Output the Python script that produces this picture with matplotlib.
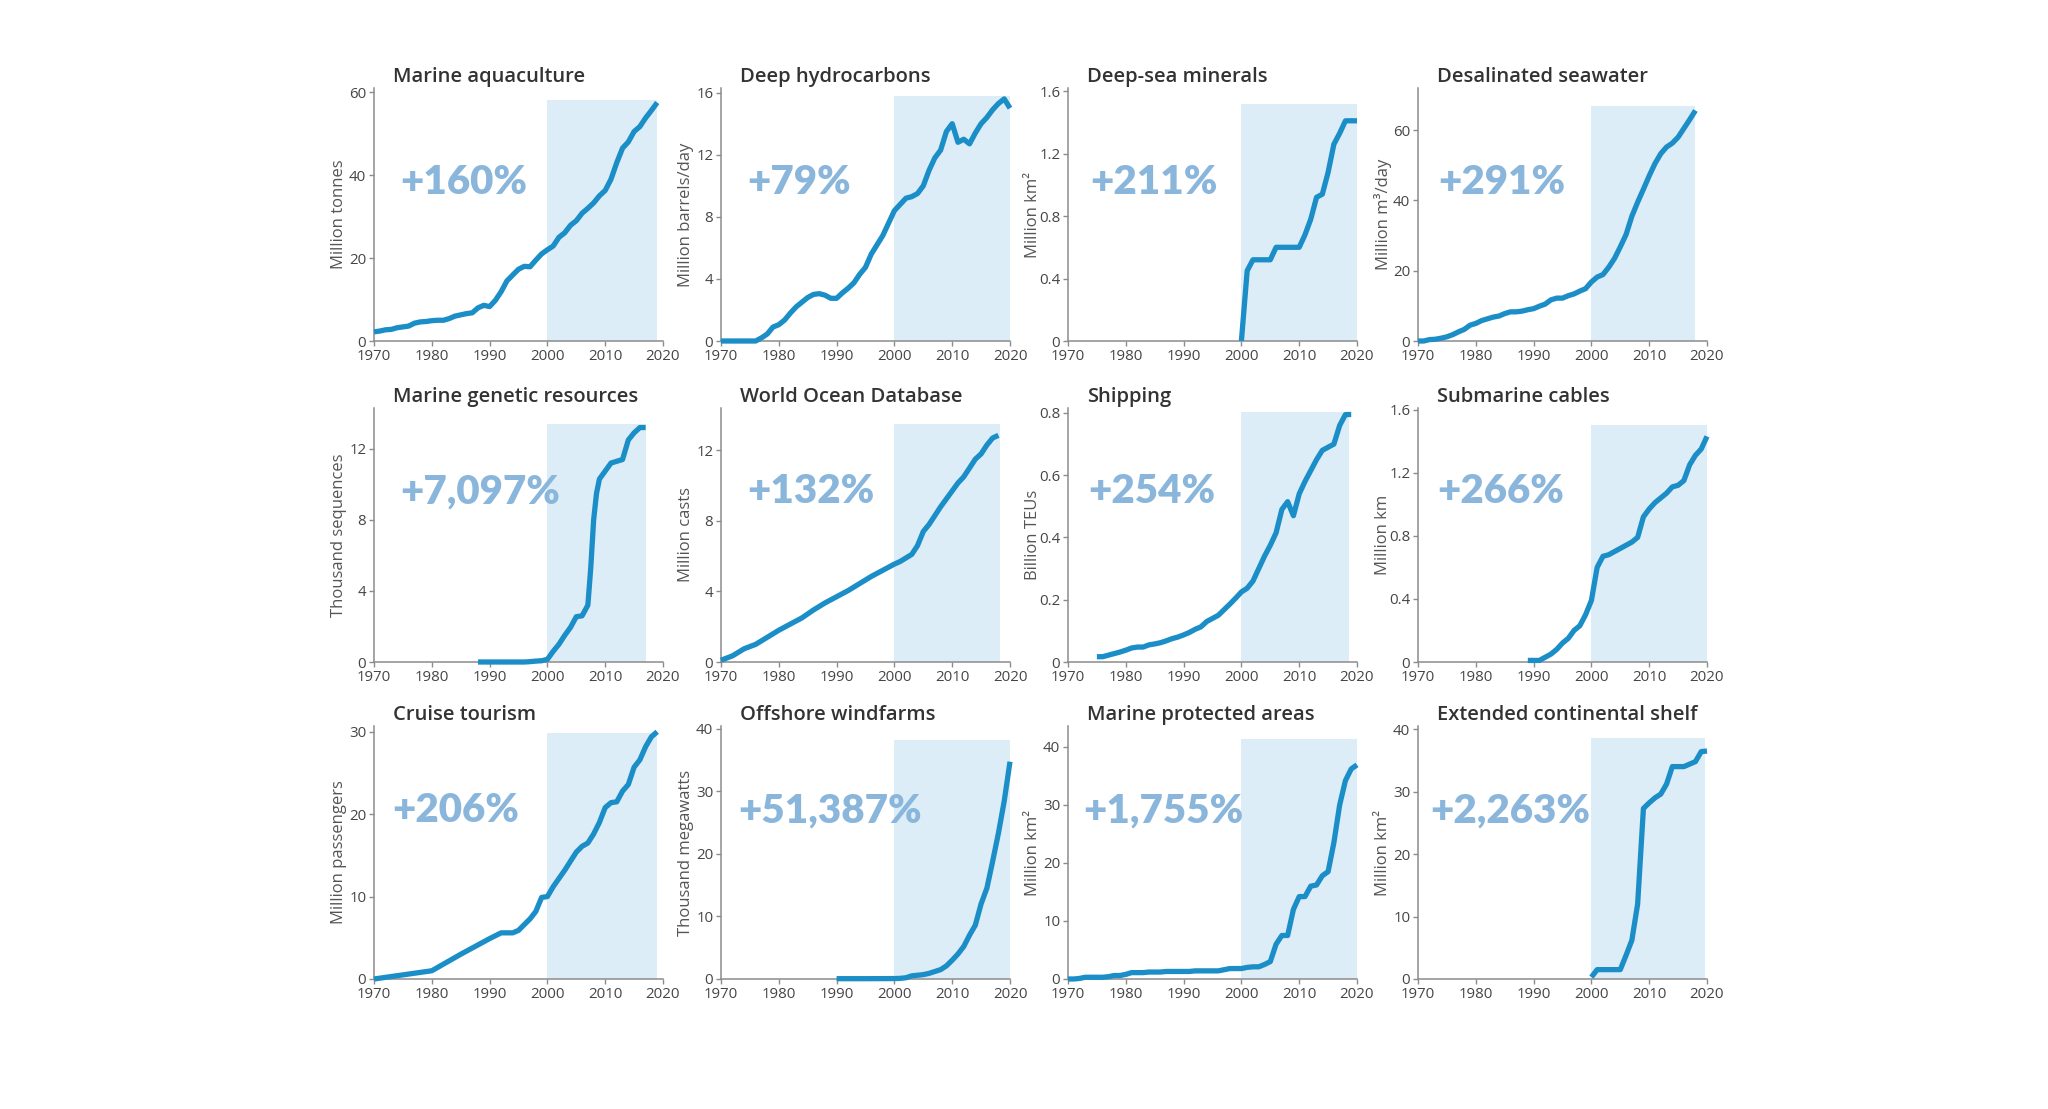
import matplotlib.pyplot as plt

# --- data --------------------------------------------------------------
titles = ["Marine aquaculture", "Deep hydrocarbons", "Deep-sea minerals", "Desalinated seawater",
          "Marine genetic resources", "World Ocean Database", "Shipping", "Submarine cables",
          "Cruise tourism", "Offshore windfarms", "Marine protected areas", "Extended continental shelf"]
ylabels = ["Million tonnes", "Million barrels/day", "Million km²", "Million m³/day",
           "Thousand sequences", "Million casts", "Billion TEUs", "Million km",
           "Million passengers", "Thousand megawatts", "Million km²", "Million km²"]
changes = ["+160%", "+79%", "+211%", "+291%", "+7,097%", "+132%", "+254%", "+266%",
           "+206%", "+51,387%", "+1,755%", "+2,263%"]

aqua_x = list(range(1970, 2020))
aqua_y = [2.2, 2.4, 2.7, 2.8, 3.2, 3.4, 3.6, 4.3, 4.6, 4.7, 4.9, 5.0, 5.0, 5.4, 6.0, 6.3, 6.6, 6.8,
          8.0, 8.6, 8.3, 9.8, 11.9, 14.5, 15.9, 17.3, 18.0, 17.9, 19.5, 21.0, 22.0, 22.9, 25.0,
          26.1, 27.9, 29.0, 30.8, 32.0, 33.3, 35.0, 36.3, 39.0, 43.0, 46.5, 48.0, 50.5, 51.7,
          53.8, 55.6, 57.5]

hydro_x = list(range(1970, 2021))
hydro_y = [0, 0, 0, 0, 0, 0, 0, 0.2, 0.45, 0.9, 1.05, 1.35, 1.8, 2.2, 2.5, 2.8, 3.0, 3.05, 2.95,
           2.75, 2.75, 3.1, 3.4, 3.75, 4.3, 4.75, 5.6, 6.2, 6.8, 7.6, 8.4, 8.8, 9.2, 9.3, 9.5,
           10.0, 11.0, 11.8, 12.3, 13.5, 14.0, 12.8, 13.0, 12.7, 13.4, 14.0, 14.4, 14.9, 15.3,
           15.6, 15.0]

mineral_x = list(range(2000, 2021))
mineral_y = [0, 0.45, 0.52, 0.52, 0.52, 0.52, 0.60, 0.60, 0.60, 0.60, 0.60, 0.68, 0.78, 0.92,
             0.94, 1.08, 1.26, 1.33, 1.41, 1.41, 1.41]

desal_x = list(range(1970, 2019))
desal_y = [0, 0, 0.4, 0.5, 0.8, 1.2, 1.8, 2.6, 3.3, 4.5, 5.0, 5.8, 6.3, 6.8, 7.1, 7.8, 8.3, 8.3,
           8.5, 8.9, 9.2, 9.9, 10.5, 11.7, 12.2, 12.2, 12.9, 13.4, 14.2, 14.9, 16.8, 18.2, 18.9,
           21.0, 23.5, 26.8, 30.3, 35.5, 39.5, 43.2, 47.0, 50.5, 53.3, 55.2, 56.3, 58.0, 60.5,
           63.0, 65.6]

genetic_x = [1988, 1990, 1992, 1994, 1996, 1997, 1998, 1999, 2000, 2001, 2002, 2003, 2004, 2005,
             2006, 2007, 2007.5, 2008, 2008.5, 2009, 2010, 2011, 2012, 2013, 2014, 2015, 2016, 2017]
genetic_y = [0, 0, 0, 0, 0, 0.02, 0.05, 0.07, 0.15, 0.6, 1.0, 1.5, 1.95, 2.55, 2.6, 3.2, 5.3,
             8.0, 9.5, 10.3, 10.75, 11.2, 11.3, 11.4, 12.5, 12.9, 13.2, 13.2]

wod_x = [1970, 1972, 1974, 1976, 1978, 1980, 1982, 1984, 1986, 1988, 1990, 1992, 1994, 1996,
         1998, 2000, 2001, 2002, 2003, 2004, 2005, 2006, 2007, 2008, 2009, 2010, 2011, 2012,
         2013, 2014, 2015, 2016, 2017, 2018]
wod_y = [0.1, 0.35, 0.75, 1.0, 1.4, 1.8, 2.15, 2.5, 2.95, 3.35, 3.7, 4.05, 4.45, 4.85, 5.2, 5.55,
         5.7, 5.9, 6.1, 6.6, 7.4, 7.8, 8.3, 8.8, 9.25, 9.7, 10.15, 10.5, 11.0, 11.5, 11.8, 12.3,
         12.7, 12.85]

ship_x = list(range(1975, 2020))
ship_y = [0.017, 0.017, 0.022, 0.027, 0.032, 0.038, 0.045, 0.048, 0.048, 0.055, 0.058, 0.062,
          0.068, 0.075, 0.08, 0.087, 0.095, 0.105, 0.113, 0.13, 0.14, 0.15, 0.168, 0.186, 0.205,
          0.225, 0.237, 0.26, 0.30, 0.34, 0.375, 0.415, 0.49, 0.515, 0.47, 0.54, 0.58, 0.615,
          0.65, 0.68, 0.69, 0.70, 0.76, 0.795, 0.795]

cable_x = list(range(1989, 2021))
cable_y = [0.01, 0.01, 0.01, 0.03, 0.05, 0.08, 0.12, 0.15, 0.2, 0.23, 0.3, 0.39, 0.6, 0.67, 0.68,
           0.7, 0.72, 0.74, 0.76, 0.79, 0.92, 0.97, 1.01, 1.04, 1.07, 1.11, 1.12, 1.15, 1.25,
           1.31, 1.35, 1.43]

cruise_x = [1970, 1975, 1980, 1985, 1990, 1992, 1994, 1995, 1996, 1997, 1998, 1999, 2000, 2001,
            2002, 2003, 2004, 2005, 2006, 2007, 2008, 2009, 2010, 2011, 2012, 2013, 2014, 2015,
            2016, 2017, 2018, 2019]
cruise_y = [0, 0.5, 1.0, 3.0, 4.9, 5.6, 5.6, 5.9, 6.6, 7.3, 8.2, 9.9, 10.0, 11.2, 12.2, 13.2,
            14.3, 15.4, 16.1, 16.5, 17.6, 19.0, 20.8, 21.4, 21.5, 22.8, 23.6, 25.7, 26.6, 28.2,
            29.4, 30.0]

wind_x = [1990, 1995, 2000, 2001, 2002, 2003, 2004, 2005, 2006, 2007, 2008, 2009, 2010, 2011,
          2012, 2013, 2014, 2015, 2016, 2017, 2018, 2019, 2020]
wind_y = [0.05, 0.05, 0.07, 0.1, 0.2, 0.5, 0.6, 0.7, 0.9, 1.2, 1.5, 2.1, 3.0, 4.0, 5.2, 7.0,
          8.6, 12.0, 14.5, 18.8, 23.3, 28.4, 34.7]

mpa_x = list(range(1970, 2021))
mpa_y = [0, 0, 0.1, 0.3, 0.3, 0.3, 0.3, 0.4, 0.6, 0.6, 0.8, 1.1, 1.1, 1.1, 1.2, 1.2, 1.2, 1.3,
         1.3, 1.3, 1.3, 1.3, 1.4, 1.4, 1.4, 1.4, 1.4, 1.6, 1.8, 1.8, 1.8, 2.0, 2.1, 2.1, 2.5,
         3.0, 6.0, 7.5, 7.5, 12.0, 14.2, 14.2, 16.0, 16.2, 17.8, 18.5, 23.5, 30.0, 34.2, 36.2,
         36.9]

shelf_x = list(range(2000, 2021))
shelf_y = [0.3, 1.5, 1.5, 1.5, 1.5, 1.5, 3.8, 6.2, 12.0, 27.3, 28.2, 29.0, 29.6, 31.2, 34.0,
           34.0, 34.0, 34.4, 34.8, 36.4, 36.5]

series_x = [aqua_x, hydro_x, mineral_x, desal_x, genetic_x, wod_x, ship_x, cable_x,
            cruise_x, wind_x, mpa_x, shelf_x]
series_y = [aqua_y, hydro_y, mineral_y, desal_y, genetic_y, wod_y, ship_y, cable_y,
            cruise_y, wind_y, mpa_y, shelf_y]

yticks = [[0, 20, 40, 60], [0, 4, 8, 12, 16], [0, 0.4, 0.8, 1.2, 1.6], [0, 20, 40, 60],
          [0, 4, 8, 12], [0, 4, 8, 12], [0, 0.2, 0.4, 0.6, 0.8], [0, 0.4, 0.8, 1.2, 1.6],
          [0, 10, 20, 30], [0, 10, 20, 30, 40], [0, 10, 20, 30, 40], [0, 10, 20, 30, 40]]
ytop = [61, 16.3, 1.62, 72, 14.3, 14.4, 0.816, 1.61, 30.7, 40.4, 43.6, 40.5]

# shaded period: end year and height
shade_end = [2019, 2020, 2020, 2018, 2017, 2018.3, 2018.6, 2020, 2019, 2020, 2020, 2019.7]
shade_top = [58, 15.8, 1.52, 67, 13.4, 13.5, 0.803, 1.505, 29.9, 38.1, 41.4, 38.6]
xticks = [1970, 1980, 1990, 2000, 2010, 2020]

# --- layout (pixels of the 2048x1109 output) ----------------------------
W, H = 2048, 1109
col_left = [374, 721, 1068, 1418]
row_bottom = [341, 662, 979]
row_top = [88, 408, 726]
ax_w = 289
pct_dx = [26, 26, 22, 20, 26, 26, 20, 19, 18, 17, 15, 12]
pct_y = [0.625, 0.67, 0.665]

LINE = "#1b8ec8"
SHADE = "#dcedf8"
PCT = "#8ab6dc"
GREY = "#8c8c8c"

plt.rcParams['font.family'] = ['Open Sans', 'DejaVu Sans']

fig = plt.figure(figsize=(W / 100, H / 100), dpi=100)

for i in range(12):
    r, c = divmod(i, 4)
    left = col_left[c] / W
    bottom = 1 - row_bottom[r] / H
    height = (row_bottom[r] - row_top[r]) / H
    ax = fig.add_axes([left, bottom, ax_w / W, height])

    ax.fill_between([2000, shade_end[i]], 0, shade_top[i], color=SHADE, lw=0, zorder=1)
    ax.plot(series_x[i], series_y[i], color=LINE, lw=3.8, solid_joinstyle='round',
            solid_capstyle='butt', clip_on=False, zorder=3)

    ax.set_xlim(1970, 2020)
    ax.set_ylim(0, ytop[i])
    ax.set_xticks(xticks)
    ax.set_yticks(yticks[i])
    ax.set_yticklabels([f"{t:g}" for t in yticks[i]])

    for s in ['top', 'right']:
        ax.spines[s].set_visible(False)
    for s in ['left', 'bottom']:
        ax.spines[s].set_color(GREY)
        ax.spines[s].set_linewidth(1.1)
    ax.tick_params(direction='out', length=3.5, width=1.0, color=GREY,
                   labelsize=10.8, labelcolor="#454545", pad=2)

    ax.set_ylabel(ylabels[i], fontsize=12, color="#555555")
    ax.yaxis.set_label_coords(-35 / ax_w, 0.5)
    ax.yaxis.label.set_verticalalignment('center')

    ax.annotate(titles[i], xy=(0, 1), xycoords='axes fraction', xytext=(19, 11),
                textcoords='offset pixels', ha='left', va='center',
                fontsize=14.5, fontweight='semibold', color="#333333")
    ax.text(pct_dx[i] / ax_w, pct_y[r], changes[i], transform=ax.transAxes,
            ha='left', va='center', fontsize=29, fontweight='heavy', color=PCT,
            family=['Lato', 'DejaVu Sans'], zorder=4)

fig.savefig("out.png", dpi=100, facecolor='white')
